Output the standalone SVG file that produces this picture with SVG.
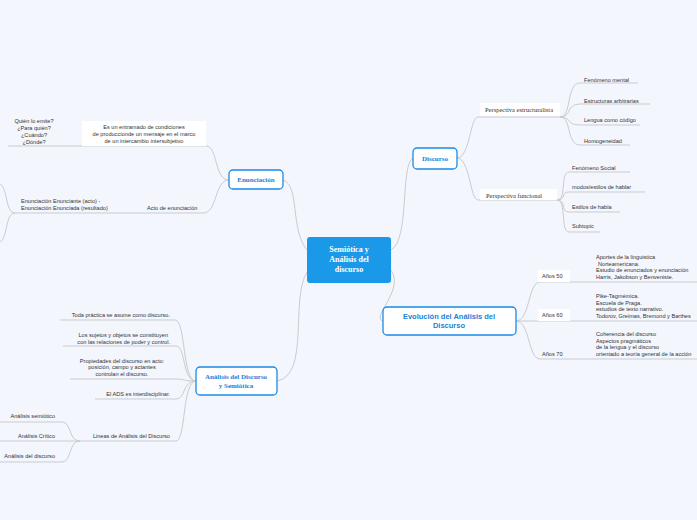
<svg xmlns="http://www.w3.org/2000/svg" width="697" height="520" viewBox="0 0 697 520">
<style>
.c{fill:none;stroke:#c9cbd0;stroke-width:1}
.s{font-family:"Liberation Sans",sans-serif;font-size:5.6px;fill:#333}
.r{font-family:"Liberation Serif",serif;font-size:6.5px;fill:#333}
.m{font-family:"Liberation Serif",serif;font-size:7px;font-weight:bold;fill:#1a7fd8}
.box{fill:#fff;stroke:#1a8ae6;stroke-width:1.3}
</style>
<rect width="697" height="520" fill="#f3f6fd"/>
<g id="connectors">
<path class="c" d="M391 250 C410 240 400 165 413 158"/>
<path class="c" d="M307 250 C290 230 300 185 283 180"/>
<path class="c" d="M391 270 C405 290 370 318 383 321"/>
<path class="c" d="M307 272 C290 300 310 375 277 381"/>
<path class="c" d="M457 158 C470 158 470 117 478 117 L560 117"/>
<path class="c" d="M457 158 C470 158 470 200 478 200 L557 200"/>
<path class="c" d="M560 117 C572 117 566 83 580 83 L638 83"/>
<path class="c" d="M560 117 C572 117 566 104 580 104 L650 104"/>
<path class="c" d="M560 117 C572 117 566 125 580 125 L640 125"/>
<path class="c" d="M560 117 C572 117 566 145 580 145 L630 145"/>
<path class="c" d="M557 200 C567 200 560 172 569 172 L630 172"/>
<path class="c" d="M557 200 C567 200 560 192 569 192 L645 192"/>
<path class="c" d="M557 200 C567 200 560 212 569 212 L620 212"/>
<path class="c" d="M557 200 C567 200 560 232 569 232 L600 232"/>
<path class="c" d="M229 180 C214 180 218 146 206 146 L8 146"/>
<path class="c" d="M229 180 C214 180 218 213 203 213 L15 213"/>
<path class="c" d="M15 213 C5 213 8 188 0 184"/>
<path class="c" d="M15 213 C5 213 8 238 0 242"/>
<path class="c" d="M516 321 C530 321 528 282 540 282 L697 282"/>
<path class="c" d="M516 321 L697 321"/>
<path class="c" d="M516 321 C530 321 528 359 540 359 L697 359"/>
<path class="c" d="M196 381 C182 381 186 320 175 320 L60 320"/>
<path class="c" d="M196 381 C182 381 186 346 176 346 L63 346"/>
<path class="c" d="M196 381 C182 381 186 379 176 379 L70 379"/>
<path class="c" d="M196 381 C182 381 186 399 176 399 L95 399"/>
<path class="c" d="M196 381 C182 381 186 441 176 441 L80 441"/>
<path class="c" d="M80 441 C68 441 72 422 62 422 L0 422"/>
<path class="c" d="M80 441 L0 441"/>
<path class="c" d="M80 441 C68 441 72 462 62 462 L0 462"/>
</g>
<g id="central"><rect x="307" y="237" width="84" height="46" rx="3" fill="#1a99e8"/>
<text font-family="Liberation Serif,serif" font-size="8px" font-weight="bold" fill="#fff" text-anchor="middle"><tspan x="349" y="252">Semiótica y</tspan><tspan x="349" y="262">Análisis del</tspan><tspan x="349" y="272">discurso</tspan></text></g>
<g id="discurso"><rect class="box" x="413" y="148" width="44" height="21" rx="4"/><text class="m" x="435" y="161" text-anchor="middle">Discurso</text></g>
<g id="enunciacion"><rect class="box" x="229" y="170" width="54" height="19" rx="4"/><text class="m" x="256" y="182" font-size="6.5px" text-anchor="middle">Enunciación</text></g>
<g id="evolucion"><rect class="box" x="383" y="307" width="133" height="28" rx="4"/><text font-family="Liberation Sans,sans-serif" font-size="7.5px" font-weight="bold" fill="#1a7fd8" text-anchor="middle"><tspan x="449" y="319">Evolución del Análisis del</tspan><tspan x="449" y="328">Discurso</tspan></text></g>
<g id="analisis"><rect class="box" x="196" y="367" width="81" height="28" rx="4"/><text class="m" font-size="6.5px" text-anchor="middle"><tspan x="236" y="379">Análisis del Discurso</tspan><tspan x="236" y="388">y Semiótica</tspan></text></g>
<g id="disc-sub">
<rect x="480" y="103" width="80" height="13" fill="#fff"/><text class="r" x="485" y="112">Perspectiva estructuralista</text>
<rect x="480" y="189" width="77" height="11" fill="#fff"/><text class="r" x="486" y="198">Perspectiva funcional</text>
<text class="s" x="584" y="82">Fenómeno mental</text>
<text class="s" x="584" y="103">Estructuras arbitrarias</text>
<text class="s" x="584" y="122">Lengua como código</text>
<text class="s" x="584" y="143">Homogeneidad</text>
<text class="s" x="572" y="170">Fenómeno Social</text>
<text class="s" x="572" y="189">modos/estilos  de hablar</text>
<text class="s" x="572" y="209">Estilos de habla</text>
<text class="s" x="572" y="228">Subtopic</text>
</g>
<g id="enun-sub">
<rect x="82" y="121" width="124" height="25" fill="#fff"/>
<text class="s" text-anchor="middle"><tspan x="144" y="129">Es un entramado de condiciones</tspan><tspan x="144" y="136">de produccíonde un mensaje en el marco</tspan><tspan x="144" y="143">de un intercambio intersubjetivo</tspan></text>
<text class="s" text-anchor="middle"><tspan x="34" y="123">Quién lo emite?</tspan><tspan x="34" y="130">¿Para quién?</tspan><tspan x="34" y="137">¿Cuándo?</tspan><tspan x="34" y="144">¿Dónde?</tspan></text>
<text class="s"><tspan x="21" y="203">Enunciación Enunciante (acto) -</tspan><tspan x="21" y="210">Enunciación Enunciada (resultado)</tspan></text>
<text class="s" x="147" y="210">Acto de enunciación</text>
</g>
<g id="evol-sub">
<rect x="538" y="270" width="32" height="12" fill="#fff"/><text class="s" x="542" y="278">Años 50</text>
<rect x="538" y="309" width="32" height="12" fill="#fff"/><text class="s" x="542" y="317">Años 60</text>
<text class="s" x="542" y="356">Años 70</text>
<text class="s"><tspan x="596" y="259">Aportes de la linguistica</tspan><tspan x="598" y="266">Norteamericana.</tspan><tspan x="596" y="272">Estudio de enunciados y enunciación</tspan><tspan x="596" y="279">Harris, Jakobson y  Benveniste.</tspan></text>
<text class="s"><tspan x="596" y="298">Pike-Tagmémica.</tspan><tspan x="596" y="305">Escuela de Praga.</tspan><tspan x="596" y="311">estudios de texto narrativo.</tspan><tspan x="596" y="318">Todorov, Greimas, Bremond y Barthes</tspan></text>
<text class="s"><tspan x="596" y="336">Coherencia del discurso</tspan><tspan x="596" y="343">Aspectos pragmáticos</tspan><tspan x="596" y="349">de la lengua y el discurso</tspan><tspan x="596" y="356">orientado a teoría general de la acción</tspan></text>
</g>
<g id="anal-sub">
<text class="s" text-anchor="end" x="170" y="317">Toda práctica se asume como discurso.</text>
<text class="s" text-anchor="end"><tspan x="168" y="337">Los  sujetos y objetos se constituyen</tspan><tspan x="170" y="344">con las relaciones de poder y control.</tspan></text>
<text class="s" text-anchor="middle"><tspan x="122" y="363">Propiedades del discurso en acto:</tspan><tspan x="122" y="369">posición, campo y actantes</tspan><tspan x="122" y="376">controlan el discurso.</tspan></text>
<text class="s" text-anchor="end" x="170" y="396">El ADS es interdisciplinar.</text>
<text class="s" text-anchor="end" x="170" y="438">Lineas de Análisis del Discurso</text>
<text class="s" text-anchor="end" x="55" y="418">Análisis semiótico</text>
<text class="s" text-anchor="end" x="55" y="438">Análisis Crítico</text>
<text class="s" text-anchor="end" x="55" y="458">Análisis del discurso</text>
</g>
</svg>
